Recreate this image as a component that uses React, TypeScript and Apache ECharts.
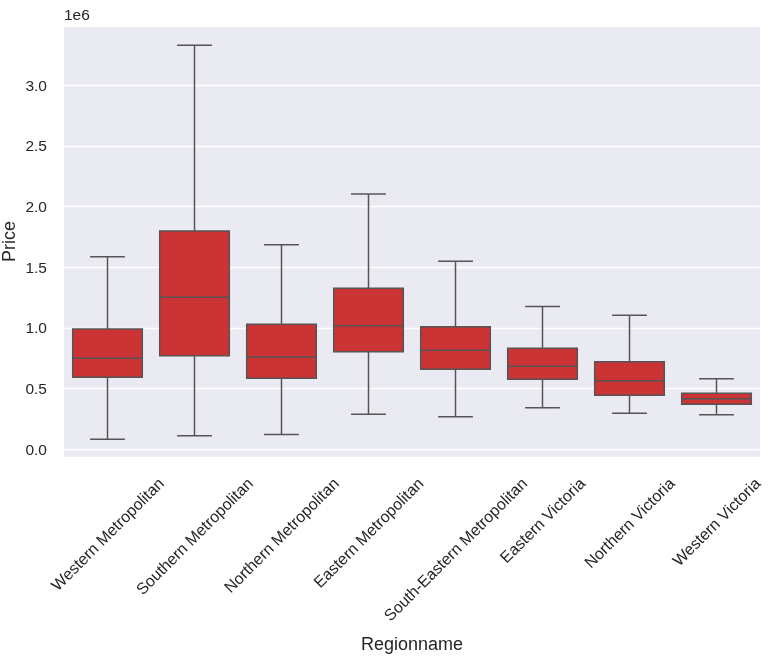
import React, { useEffect, useRef } from "react";
import * as echarts from "echarts";

const categories = [
  "Western Metropolitan",
  "Southern Metropolitan",
  "Northern Metropolitan",
  "Eastern Metropolitan",
  "South-Eastern Metropolitan",
  "Eastern Victoria",
  "Northern Victoria",
  "Western Victoria",
];
const whiskerLow = [82000, 112000, 122000, 288000, 269000, 343000, 297000, 285000];
const q1 = [593000, 772000, 585000, 805000, 659000, 577000, 445000, 371000];
const median = [750000, 1253000, 761000, 1019000, 816000, 684000, 565000, 417000];
const q3 = [991000, 1799000, 1030000, 1327000, 1011000, 832000, 722000, 461000];
const whiskerHigh = [1587000, 3330000, 1686000, 2104000, 1549000, 1178000, 1104000, 582000];
const yTickStep = 500000;
const yMin = -63500;
const yMax = 3489000;

const FONT = '"Liberation Sans", Arial, sans-serif';
const TEXT = "#262626";
const BOX = "#CB3335";
const LINE = "#555555";
const FS = 15.5;
const XFS = 16;

export default function App() {
  const ref = useRef<HTMLDivElement>(null);
  useEffect(() => {
    if (!ref.current) return;
    const chart = echarts.init(ref.current, undefined, { renderer: "svg" });

    const data = categories.map((_, i) => [i, whiskerLow[i], q1[i], median[i], q3[i], whiskerHigh[i]]);

    chart.setOption({
      animation: false,
      grid: {
        left: 64, right: 15, top: 26, bottom: 204,
        containLabel: false, outerBoundsMode: "none",
        show: true, backgroundColor: "#EAEAF2", borderWidth: 0,
      },
      xAxis: {
        type: "category",
        data: categories,
        name: "Regionname",
        nameLocation: "middle",
        nameGap: 178,
        nameMoveOverlap: false,
        nameTextStyle: { color: TEXT, fontSize: 18, fontFamily: FONT },
        axisLine: { show: false },
        axisTick: { show: false },
        splitLine: { show: false },
        axisLabel: { show: false },
      },
      yAxis: {
        type: "value",
        min: yMin,
        max: yMax,
        splitNumber: 7,
        name: "Price",
        nameLocation: "middle",
        nameGap: 46,
        nameMoveOverlap: false,
        nameTextStyle: { color: TEXT, fontSize: 18, fontFamily: FONT },
        axisLine: { show: false },
        axisTick: { show: false },
        splitLine: { show: true, lineStyle: { color: "#FFFFFF", width: 1.3 } },
        axisLabel: {
          margin: 17,
          color: TEXT,
          fontSize: FS,
          fontFamily: FONT,
          formatter: (v: number) => {
            const k = v / yTickStep;
            return Math.abs(k - Math.round(k)) < 1e-6 ? (v / 1e6).toFixed(1) : "";
          },
        },
      },
      series: [
        {
          type: "custom",
          data,
          encode: { x: 0, y: [1, 2, 3, 4, 5] },
          renderItem: (params: any, api: any) => {
            const i = api.value(0);
            const lo = api.coord([i, api.value(1)]);
            const p1 = api.coord([i, api.value(2)]);
            const pm = api.coord([i, api.value(3)]);
            const p3 = api.coord([i, api.value(4)]);
            const hi = api.coord([i, api.value(5)]);
            const band = api.size([1, 0])[0];
            const bw = band * 0.8;
            const cw = bw / 2;
            const x = lo[0];
            const ls = { stroke: LINE, lineWidth: 1.5, fill: "none" };
            return {
              type: "group",
              children: [
                { type: "line", shape: { x1: x, y1: p1[1], x2: x, y2: lo[1] }, style: ls },
                { type: "line", shape: { x1: x, y1: p3[1], x2: x, y2: hi[1] }, style: ls },
                { type: "line", shape: { x1: x - cw / 2, y1: lo[1], x2: x + cw / 2, y2: lo[1] }, style: ls },
                { type: "line", shape: { x1: x - cw / 2, y1: hi[1], x2: x + cw / 2, y2: hi[1] }, style: ls },
                {
                  type: "rect",
                  shape: { x: x - bw / 2, y: p3[1], width: bw, height: p1[1] - p3[1] },
                  style: { fill: BOX, stroke: LINE, lineWidth: 1.5 },
                },
                { type: "line", shape: { x1: x - bw / 2, y1: pm[1], x2: x + bw / 2, y2: pm[1] }, style: ls },
              ],
            };
          },
        },
      ],
    });

    // rotated category labels, centred on each tick like matplotlib (ha=center, va=top)
    const canvas = document.createElement("canvas");
    const ctx = canvas.getContext("2d")!;
    ctx.font = `${XFS}px "Liberation Sans"`;
    const h = 18.5;
    const plotBottom = chart.convertToPixel({ yAxisIndex: 0 }, yMin) as number;
    const labelTop = plotBottom + 17;
    const labelEls = categories.map((c) => {
      const w = ctx.measureText(c).width;
      const x = chart.convertToPixel({ xAxisIndex: 0 }, c) as number;
      const y = labelTop + 0.35355 * (w + h);
      return {
        type: "text",
        x,
        y,
        rotation: Math.PI / 4,
        style: { text: c, fill: TEXT, fontSize: XFS, fontFamily: FONT, align: "center", verticalAlign: "middle" },
      };
    });

    chart.setOption({
      graphic: [
        { type: "text", left: 64, top: 6, style: { text: "1e6", fill: TEXT, fontSize: FS, fontFamily: FONT } },
        ...labelEls,
      ],
    });
    return () => chart.dispose();
  }, []);
  return <div ref={ref} style={{ position: "fixed", left: 0, top: 0, width: 775, height: 661 }} />;
}
